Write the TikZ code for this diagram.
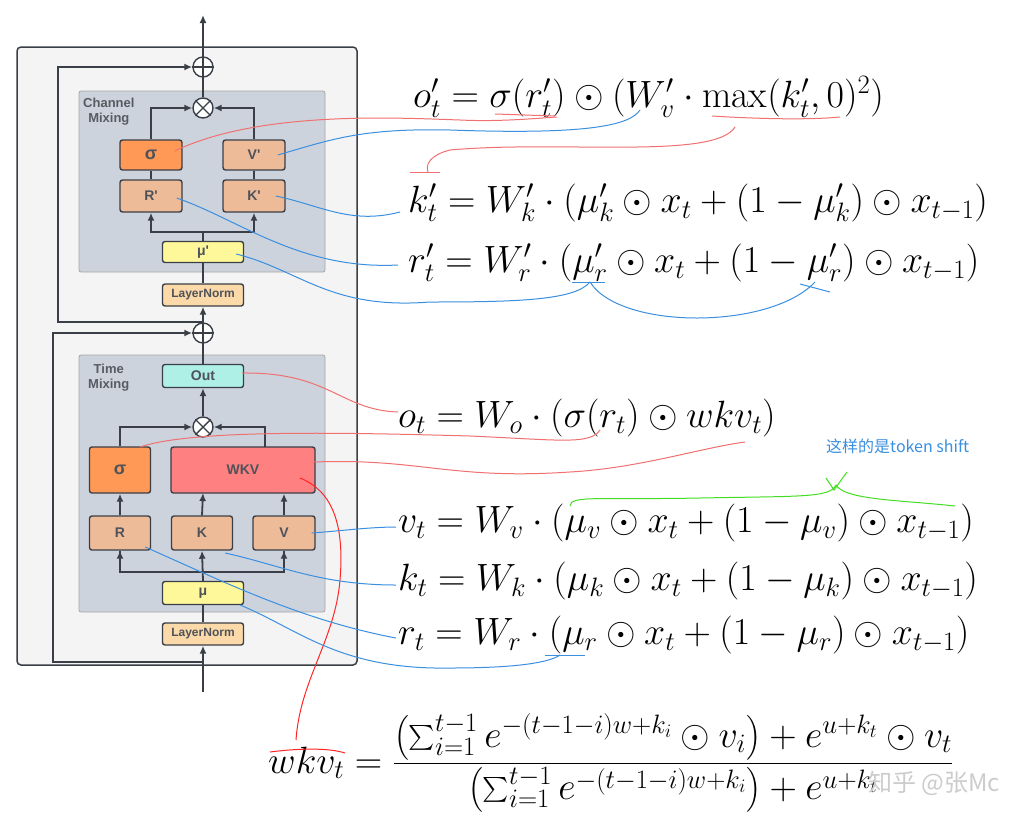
\documentclass[tikz,border=0pt]{standalone}
\usepackage{fix-cm}
\usepackage{amsmath}
\usepackage{fontspec}
\newfontfamily\dsans{Liberation Sans}
\newfontfamily\cjk{Noto Sans CJK SC}
\usetikzlibrary{arrows.meta}
\definecolor{edge}{HTML}{3A3F47}
\definecolor{panel}{HTML}{CDD3DC}
\definecolor{outerbg}{HTML}{F4F4F4}
\definecolor{orng}{HTML}{FF9955}
\definecolor{peach}{HTML}{EEBB99}
\definecolor{yel}{HTML}{FFF89A}
\definecolor{lnorm}{HTML}{FCD9A8}
\definecolor{cyanb}{HTML}{AEF0E6}
\definecolor{wkvc}{HTML}{FF8080}
\definecolor{pen red}{HTML}{F07070}
\definecolor{pen blue}{HTML}{3A8FE0}
\definecolor{pen green}{HTML}{44DD22}
\tikzset{
 blk/.style={draw=edge,line width=1.4pt,rounded corners=2.5pt,font=\dsans\bfseries\fontsize{14}{16}\selectfont,text=edge!90},
 op/.style={draw=edge,line width=1.4pt,circle,fill=white,minimum size=20pt,inner sep=0pt},
 wire/.style={draw=edge,line width=1.8pt},
 arr/.style={wire,-{Latex[length=8pt,width=7pt]}},
 pnl/.style={draw=gray!70,line width=0.8pt,fill=panel,rounded corners=2pt},
 eq/.style={anchor=west,inner sep=0pt,font=\fontsize{38}{44}\selectfont},
 rpen/.style={draw=pen red,line width=1pt},
 bpen/.style={draw=pen blue,line width=1pt},
 lbl/.style={font=\dsans\bfseries\fontsize{13}{15}\selectfont,text=edge!85,align=center,anchor=north west,inner sep=0pt},
}
\begin{document}
\begin{tikzpicture}[x=1pt,y=-1pt]
\useasboundingbox[fill=white] (0,0) rectangle (1022,828);
% outer box
\draw[draw=edge,line width=1.5pt,fill=outerbg,rounded corners=4pt] (17,47) rectangle (357,665);
% panels
\draw[pnl] (79,91) rectangle (325,272);
\draw[pnl] (79,355) rectangle (325,612);
\node[lbl] (cmlab) at (83,98) {Channel\\Mixing};
\node[lbl] (tmlab) at (88,364) {Time\\Mixing};
% ops
\node[op] (add1) at (203,67) {};
\draw[edge,line width=1.4pt] (add1.north)--(add1.south) (add1.west)--(add1.east);
\node[op] (mul1) at (203,108) {};
\draw[edge,line width=1.4pt] (mul1.north west)--(mul1.south east) (mul1.north east)--(mul1.south west);
\node[op] (add2) at (203,333) {};
\draw[edge,line width=1.4pt] (add2.north)--(add2.south) (add2.west)--(add2.east);
\node[op] (mul2) at (203,427) {};
\draw[edge,line width=1.4pt] (mul2.north west)--(mul2.south east) (mul2.north east)--(mul2.south west);
% channel mixing blocks
\node[blk,fill=orng,minimum width=62pt,minimum height=30pt] (sig1) at (151,155) {\fontsize{18}{18}\selectfont σ};
\node[blk,fill=peach,minimum width=62pt,minimum height=30pt] (vp) at (254,155) {V'};
\node[blk,fill=peach,minimum width=62pt,minimum height=32pt] (rp) at (151,196) {R'};
\node[blk,fill=peach,minimum width=62pt,minimum height=32pt] (kp) at (254,196) {K'};
\node[blk,fill=yel,minimum width=81pt,minimum height=21pt] (mup) at (203,252) {μ'};
\node[blk,fill=lnorm,minimum width=81pt,minimum height=22pt,font=\dsans\bfseries\fontsize{12}{14}\selectfont] (ln1) at (203,295) {LayerNorm};
% time mixing blocks
\node[blk,fill=cyanb,minimum width=81pt,minimum height=23pt] (out) at (203,376) {Out};
\node[blk,fill=orng,minimum width=61pt,minimum height=46pt] (sig2) at (120,470) {\fontsize{18}{18}\selectfont σ};
\node[blk,fill=wkvc,minimum width=144pt,minimum height=46pt] (wkv) at (243,470) {WKV};
\node[blk,fill=peach,minimum width=61pt,minimum height=34pt] (r) at (120,533) {R};
\node[blk,fill=peach,minimum width=61pt,minimum height=34pt] (k) at (202,533) {K};
\node[blk,fill=peach,minimum width=62pt,minimum height=34pt] (v) at (284,533) {V};
\node[blk,fill=yel,minimum width=81pt,minimum height=23pt] (mu) at (203,593) {μ};
\node[blk,fill=lnorm,minimum width=81pt,minimum height=22pt,font=\dsans\bfseries\fontsize{12}{14}\selectfont] (ln2) at (203,634) {LayerNorm};
\coordinate (top) at (203,15);
\coordinate (bot) at (203,692);
% wires channel mixing
\draw[arr] (add1.north)--(top);
\draw[wire] (mul1.north)--(add1.south);
\draw[arr] (sig1.north) |- (mul1.west);
\draw[arr] (vp.north) |- (mul1.east);
\draw[wire] (sig1.south)--(rp.north);
\draw[wire] (vp.south)--(kp.north);
\draw[wire] (mup.north)--(203,232);
\draw[arr] (203,232) -| (rp.south);
\draw[arr] (203,232) -| (kp.south);
\draw[wire] (ln1.north)--(mup.south);
\draw[arr] (add2.north)--(ln1.south);
\draw[arr] (203,322) -| (58,67) -- (add1.west);
% wires time mixing
\draw[wire] (out.north)--(add2.south);
\draw[arr] (mul2.north)--(out.south);
\draw[arr] (sig2.north) |- (mul2.west);
\draw[arr] (265,447) |- (mul2.east);
\draw[arr] (r.north)--(sig2.south);
\draw[arr] (k.north)--(203,493);
\draw[arr] (v.north)--(wkv.south -| v.north);
\draw[arr] (mu.north)--(k.south);
\draw[wire] (203,572) -| (r.south);
\draw[wire] (203,572) -| (v.south);
\draw[arr] (120,572)--(r.south);
\draw[arr] (284,572)--(v.south);
\draw[wire] (ln2.north)--(mu.south);
\draw[arr] (bot)--(ln2.south);
\draw[arr] (203,662) -| (53,333) -- (add2.west);
% equations
\node[eq] (eo1) at (413,97) {$o'_t=\sigma(r'_t)\odot(W'_v\cdot\max(k'_t,0)^2)$};
\node[eq] (ek1) at (408,203) {$k'_t=W'_k\cdot(\mu'_k\odot x_t+(1-\mu'_k)\odot x_{t-1})$};
\node[eq] (er1) at (408,263) {$r'_t=W'_r\cdot(\mu'_r\odot x_t+(1-\mu'_r)\odot x_{t-1})$};
\node[eq] (eo) at (398,418) {$o_t=W_o\cdot(\sigma(r_t)\odot wkv_t)$};
\node[eq] (ev) at (398,523) {$v_t=W_v\cdot(\mu_v\odot x_t+(1-\mu_v)\odot x_{t-1})$};
\node[eq] (ek) at (398,581) {$k_t=W_k\cdot(\mu_k\odot x_t+(1-\mu_k)\odot x_{t-1})$};
\node[eq] (er) at (398,635) {$r_t=W_r\cdot(\mu_r\odot x_t+(1-\mu_r)\odot x_{t-1})$};
\node[eq] (ew) at (268,763) {$wkv_t=\dfrac{\left(\sum_{i=1}^{t-1}e^{-(t-1-i)w+k_i}\odot v_i\right)+e^{u+k_t}\odot v_t}{\left(\sum_{i=1}^{t-1}e^{-(t-1-i)w+k_i}\right)+e^{u+k_t}}$};
\node[anchor=west,inner sep=0pt,text=pen blue,font=\cjk\fontsize{16}{18}\selectfont] (note) at (826,446) {这样的是token shift};
\node[anchor=west,inner sep=0pt,text=gray!40,font=\cjk\fontsize{24}{26}\selectfont] (wm) at (868,783) {知乎 @张Mc};
% pen annotations channel mixing
\draw[rpen] (sig1.east) ++(-8,-4) .. controls (260,110) and (400,118) .. (460,120) .. controls (500,122) and (540,118) .. (557,117);
\draw[rpen] (495,114)--(555,116);
\draw[rpen] (712,116) .. controls (760,119) and (810,120) .. (840,117);
\draw[rpen] (735,127) .. controls (715,160) and (560,140) .. (450,150) .. controls (430,155) and (425,165) .. (428,172);
\draw[rpen] (410,172)--(440,172);
\draw[bpen] (vp.east) ++(-8,0) .. controls (330,140) and (360,128) .. (450,130) .. controls (590,135) and (630,125) .. (640,110);
\draw[bpen] (kp.east) ++(-10,0) .. controls (320,205) and (350,225) .. (400,212);
\draw[bpen] (rp.east) ++(-6,2) .. controls (240,220) and (300,270) .. (398,265);
\draw[bpen] (mup.east) ++(-8,2) .. controls (300,270) and (330,310) .. (430,302) .. controls (520,302) and (575,300) .. (590,282);
\draw[bpen] (572,282)--(605,282);
\draw[bpen] (590,282) .. controls (620,330) and (770,330) .. (815,282);
\draw[bpen] (800,284)--(830,292);
% pen annotations time mixing
\draw[rpen] (out.east) ++(-2,-3) .. controls (330,372) and (340,410) .. (398,412);
\draw[rpen] (140,447) .. controls (190,430) and (330,432) .. (470,436) .. controls (560,440) and (590,445) .. (600,430);
\draw[rpen] (wkv.east) ++(-2,-8) .. controls (420,458) and (450,480) .. (570,472) .. controls (640,468) and (700,448) .. (745,442);
\draw[rpen,draw=red!85] (300,478) .. controls (330,490) and (345,520) .. (340,580) .. controls (335,640) and (300,680) .. (296,740);
\draw[rpen,draw=red!85] (270,752) .. controls (300,748) and (330,748) .. (345,753);
\draw[bpen] (v.east) ++(-4,0) .. controls (340,531) and (370,527) .. (396,527);
\draw[bpen] (k.east) ++(-8,20) .. controls (280,565) and (320,585) .. (396,585);
\draw[bpen] (r.east) ++(-6,14) .. controls (220,580) and (300,620) .. (396,638);
\draw[bpen] (mu.east) ++(-4,12) .. controls (300,630) and (340,670) .. (450,668) .. controls (520,668) and (550,662) .. (560,655);
\draw[bpen] (545,655)--(585,655);
% green brace
\draw[draw=pen green,line width=1pt] (570,506) .. controls (570,495) and (600,500) .. (700,498) .. controls (800,496) and (830,498) .. (836,485) .. controls (845,500) and (900,500) .. (955,506);
\draw[draw=pen green,line width=1pt] (826,478)--(834,490)--(847,472);
\end{tikzpicture}
\end{document}
